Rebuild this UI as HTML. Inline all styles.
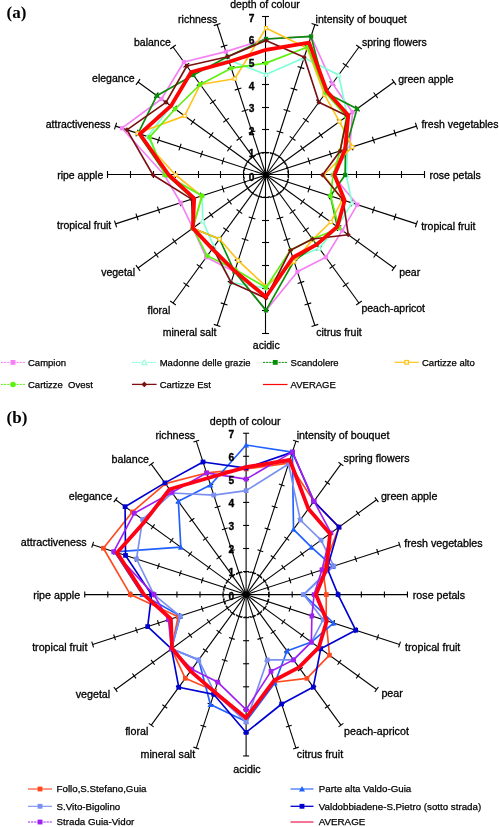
<!DOCTYPE html>
<html><head><meta charset="utf-8"><title>Sensory profiles</title>
<style>
html,body{margin:0;padding:0;background:#fff;}
body{width:499px;height:827px;overflow:hidden;}
svg{display:block;}
svg text{font-family:"Liberation Sans",Arial,sans-serif;fill:#000;}
.lab text{font-size:10.5px;stroke:#000;stroke-width:0.3px;}
.num text{font-size:10.2px;font-weight:bold;stroke:#000;stroke-width:0.35px;}
text.leg{font-size:9.5px;stroke:#000;stroke-width:0.25px;}
text.legb{font-size:9.75px;}
.labb text{font-size:10.7px;}
text.pan{font-family:"Liberation Serif","Times New Roman",serif;font-size:17px;font-weight:bold;}
</style></head><body>
<svg width="499" height="827" viewBox="0 0 499 827">
<rect width="499" height="827" fill="#fff"/>
<g stroke="#000" stroke-width="1.1" fill="none"><line x1="265.50" y1="175.00" x2="265.50" y2="16.80"/><line x1="262.00" y1="152.50" x2="269.00" y2="152.50"/><line x1="262.00" y1="129.50" x2="269.00" y2="129.50"/><line x1="262.00" y1="107.50" x2="269.00" y2="107.50"/><line x1="262.00" y1="84.50" x2="269.00" y2="84.50"/><line x1="262.00" y1="62.50" x2="269.00" y2="62.50"/><line x1="262.00" y1="39.50" x2="269.00" y2="39.50"/><line x1="262.00" y1="16.50" x2="269.00" y2="16.50"/><line x1="266.00" y1="175.00" x2="314.89" y2="24.54"/><line x1="269.66" y1="152.42" x2="276.31" y2="154.59"/><line x1="276.64" y1="130.93" x2="283.30" y2="133.09"/><line x1="283.62" y1="109.44" x2="290.28" y2="111.60"/><line x1="290.61" y1="87.94" x2="297.26" y2="90.11"/><line x1="297.59" y1="66.45" x2="304.25" y2="68.61"/><line x1="304.57" y1="44.96" x2="311.23" y2="47.12"/><line x1="311.56" y1="23.46" x2="318.22" y2="25.62"/><line x1="266.00" y1="175.00" x2="358.99" y2="47.01"/><line x1="276.45" y1="154.66" x2="282.12" y2="158.77"/><line x1="289.74" y1="136.38" x2="295.40" y2="140.49"/><line x1="303.02" y1="118.09" x2="308.68" y2="122.21"/><line x1="316.30" y1="99.81" x2="321.97" y2="103.92"/><line x1="329.59" y1="81.52" x2="335.25" y2="85.64"/><line x1="342.87" y1="63.24" x2="348.54" y2="67.35"/><line x1="356.16" y1="44.96" x2="361.82" y2="49.07"/><line x1="266.00" y1="175.00" x2="393.99" y2="82.01"/><line x1="282.23" y1="158.88" x2="286.34" y2="164.55"/><line x1="300.51" y1="145.60" x2="304.62" y2="151.26"/><line x1="318.79" y1="132.32" x2="322.91" y2="137.98"/><line x1="337.08" y1="119.03" x2="341.19" y2="124.70"/><line x1="355.36" y1="105.75" x2="359.48" y2="111.41"/><line x1="373.65" y1="92.46" x2="377.76" y2="98.13"/><line x1="391.93" y1="79.18" x2="396.04" y2="84.84"/><line x1="266.00" y1="175.00" x2="416.46" y2="126.11"/><line x1="286.41" y1="164.69" x2="288.58" y2="171.34"/><line x1="307.91" y1="157.70" x2="310.07" y2="164.36"/><line x1="329.40" y1="150.72" x2="331.56" y2="157.38"/><line x1="350.89" y1="143.74" x2="353.06" y2="150.39"/><line x1="372.39" y1="136.75" x2="374.55" y2="143.41"/><line x1="393.88" y1="129.77" x2="396.04" y2="136.43"/><line x1="415.38" y1="122.78" x2="417.54" y2="129.44"/><line x1="266.00" y1="174.50" x2="424.20" y2="174.50"/><line x1="288.50" y1="171.00" x2="288.50" y2="178.00"/><line x1="311.50" y1="171.00" x2="311.50" y2="178.00"/><line x1="333.50" y1="171.00" x2="333.50" y2="178.00"/><line x1="356.50" y1="171.00" x2="356.50" y2="178.00"/><line x1="379.50" y1="171.00" x2="379.50" y2="178.00"/><line x1="401.50" y1="171.00" x2="401.50" y2="178.00"/><line x1="424.50" y1="171.00" x2="424.50" y2="178.00"/><line x1="266.00" y1="175.00" x2="416.46" y2="223.89"/><line x1="288.58" y1="178.66" x2="286.41" y2="185.31"/><line x1="310.07" y1="185.64" x2="307.91" y2="192.30"/><line x1="331.56" y1="192.62" x2="329.40" y2="199.28"/><line x1="353.06" y1="199.61" x2="350.89" y2="206.26"/><line x1="374.55" y1="206.59" x2="372.39" y2="213.25"/><line x1="396.04" y1="213.57" x2="393.88" y2="220.23"/><line x1="417.54" y1="220.56" x2="415.38" y2="227.22"/><line x1="266.00" y1="175.00" x2="393.99" y2="267.99"/><line x1="286.34" y1="185.45" x2="282.23" y2="191.12"/><line x1="304.62" y1="198.74" x2="300.51" y2="204.40"/><line x1="322.91" y1="212.02" x2="318.79" y2="217.68"/><line x1="341.19" y1="225.30" x2="337.08" y2="230.97"/><line x1="359.48" y1="238.59" x2="355.36" y2="244.25"/><line x1="377.76" y1="251.87" x2="373.65" y2="257.54"/><line x1="396.04" y1="265.16" x2="391.93" y2="270.82"/><line x1="266.00" y1="175.00" x2="358.99" y2="302.99"/><line x1="282.12" y1="191.23" x2="276.45" y2="195.34"/><line x1="295.40" y1="209.51" x2="289.74" y2="213.62"/><line x1="308.68" y1="227.79" x2="303.02" y2="231.91"/><line x1="321.97" y1="246.08" x2="316.30" y2="250.19"/><line x1="335.25" y1="264.36" x2="329.59" y2="268.48"/><line x1="348.54" y1="282.65" x2="342.87" y2="286.76"/><line x1="361.82" y1="300.93" x2="356.16" y2="305.04"/><line x1="266.00" y1="175.00" x2="314.89" y2="325.46"/><line x1="276.31" y1="195.41" x2="269.66" y2="197.58"/><line x1="283.30" y1="216.91" x2="276.64" y2="219.07"/><line x1="290.28" y1="238.40" x2="283.62" y2="240.56"/><line x1="297.26" y1="259.89" x2="290.61" y2="262.06"/><line x1="304.25" y1="281.39" x2="297.59" y2="283.55"/><line x1="311.23" y1="302.88" x2="304.57" y2="305.04"/><line x1="318.22" y1="324.38" x2="311.56" y2="326.54"/><line x1="265.50" y1="175.00" x2="265.50" y2="333.20"/><line x1="269.00" y1="197.50" x2="262.00" y2="197.50"/><line x1="269.00" y1="220.50" x2="262.00" y2="220.50"/><line x1="269.00" y1="242.50" x2="262.00" y2="242.50"/><line x1="269.00" y1="265.50" x2="262.00" y2="265.50"/><line x1="269.00" y1="288.50" x2="262.00" y2="288.50"/><line x1="269.00" y1="310.50" x2="262.00" y2="310.50"/><line x1="269.00" y1="333.50" x2="262.00" y2="333.50"/><line x1="266.00" y1="175.00" x2="217.11" y2="325.46"/><line x1="262.34" y1="197.58" x2="255.69" y2="195.41"/><line x1="255.36" y1="219.07" x2="248.70" y2="216.91"/><line x1="248.38" y1="240.56" x2="241.72" y2="238.40"/><line x1="241.39" y1="262.06" x2="234.74" y2="259.89"/><line x1="234.41" y1="283.55" x2="227.75" y2="281.39"/><line x1="227.43" y1="305.04" x2="220.77" y2="302.88"/><line x1="220.44" y1="326.54" x2="213.78" y2="324.38"/><line x1="266.00" y1="175.00" x2="173.01" y2="302.99"/><line x1="255.55" y1="195.34" x2="249.88" y2="191.23"/><line x1="242.26" y1="213.62" x2="236.60" y2="209.51"/><line x1="228.98" y1="231.91" x2="223.32" y2="227.79"/><line x1="215.70" y1="250.19" x2="210.03" y2="246.08"/><line x1="202.41" y1="268.48" x2="196.75" y2="264.36"/><line x1="189.13" y1="286.76" x2="183.46" y2="282.65"/><line x1="175.84" y1="305.04" x2="170.18" y2="300.93"/><line x1="266.00" y1="175.00" x2="138.01" y2="267.99"/><line x1="249.77" y1="191.12" x2="245.66" y2="185.45"/><line x1="231.49" y1="204.40" x2="227.38" y2="198.74"/><line x1="213.21" y1="217.68" x2="209.09" y2="212.02"/><line x1="194.92" y1="230.97" x2="190.81" y2="225.30"/><line x1="176.64" y1="244.25" x2="172.52" y2="238.59"/><line x1="158.35" y1="257.54" x2="154.24" y2="251.87"/><line x1="140.07" y1="270.82" x2="135.96" y2="265.16"/><line x1="266.00" y1="175.00" x2="115.54" y2="223.89"/><line x1="245.59" y1="185.31" x2="243.42" y2="178.66"/><line x1="224.09" y1="192.30" x2="221.93" y2="185.64"/><line x1="202.60" y1="199.28" x2="200.44" y2="192.62"/><line x1="181.11" y1="206.26" x2="178.94" y2="199.61"/><line x1="159.61" y1="213.25" x2="157.45" y2="206.59"/><line x1="138.12" y1="220.23" x2="135.96" y2="213.57"/><line x1="116.62" y1="227.22" x2="114.46" y2="220.56"/><line x1="266.00" y1="174.50" x2="107.80" y2="174.50"/><line x1="243.50" y1="178.00" x2="243.50" y2="171.00"/><line x1="220.50" y1="178.00" x2="220.50" y2="171.00"/><line x1="198.50" y1="178.00" x2="198.50" y2="171.00"/><line x1="175.50" y1="178.00" x2="175.50" y2="171.00"/><line x1="153.50" y1="178.00" x2="153.50" y2="171.00"/><line x1="130.50" y1="178.00" x2="130.50" y2="171.00"/><line x1="107.50" y1="178.00" x2="107.50" y2="171.00"/><line x1="266.00" y1="175.00" x2="115.54" y2="126.11"/><line x1="243.42" y1="171.34" x2="245.59" y2="164.69"/><line x1="221.93" y1="164.36" x2="224.09" y2="157.70"/><line x1="200.44" y1="157.38" x2="202.60" y2="150.72"/><line x1="178.94" y1="150.39" x2="181.11" y2="143.74"/><line x1="157.45" y1="143.41" x2="159.61" y2="136.75"/><line x1="135.96" y1="136.43" x2="138.12" y2="129.77"/><line x1="114.46" y1="129.44" x2="116.62" y2="122.78"/><line x1="266.00" y1="175.00" x2="138.01" y2="82.01"/><line x1="245.66" y1="164.55" x2="249.77" y2="158.88"/><line x1="227.38" y1="151.26" x2="231.49" y2="145.60"/><line x1="209.09" y1="137.98" x2="213.21" y2="132.32"/><line x1="190.81" y1="124.70" x2="194.92" y2="119.03"/><line x1="172.52" y1="111.41" x2="176.64" y2="105.75"/><line x1="154.24" y1="98.13" x2="158.35" y2="92.46"/><line x1="135.96" y1="84.84" x2="140.07" y2="79.18"/><line x1="266.00" y1="175.00" x2="173.01" y2="47.01"/><line x1="249.88" y1="158.77" x2="255.55" y2="154.66"/><line x1="236.60" y1="140.49" x2="242.26" y2="136.38"/><line x1="223.32" y1="122.21" x2="228.98" y2="118.09"/><line x1="210.03" y1="103.92" x2="215.70" y2="99.81"/><line x1="196.75" y1="85.64" x2="202.41" y2="81.52"/><line x1="183.46" y1="67.35" x2="189.13" y2="63.24"/><line x1="170.18" y1="49.07" x2="175.84" y2="44.96"/><line x1="266.00" y1="175.00" x2="217.11" y2="24.54"/><line x1="255.69" y1="154.59" x2="262.34" y2="152.42"/><line x1="248.70" y1="133.09" x2="255.36" y2="130.93"/><line x1="241.72" y1="111.60" x2="248.38" y2="109.44"/><line x1="234.74" y1="90.11" x2="241.39" y2="87.94"/><line x1="227.75" y1="68.61" x2="234.41" y2="66.45"/><line x1="220.77" y1="47.12" x2="227.43" y2="44.96"/><line x1="213.78" y1="25.62" x2="220.44" y2="23.46"/></g><circle cx="266.0" cy="175.0" r="22.04" fill="none" stroke="#000" stroke-width="1" stroke-dasharray="2.6 1.7"/><circle cx="266.0" cy="175.0" r="3.3" fill="#000"/>
<path d="M266.00 38.95 L311.05 36.36 L332.42 83.58 L352.48 112.17 L349.83 147.76 L332.67 175.00 L357.35 204.68 L342.24 230.39 L325.78 257.28 L297.43 271.72 L266.00 310.37 L234.57 271.72 L206.22 257.28 L192.86 228.14 L180.67 202.73 L164.30 175.00 L121.99 128.21 L161.42 99.02 L183.91 62.01 L225.91 51.63 Z" fill="none" stroke="#F480F4" stroke-width="1.65" stroke-linejoin="round"/><rect x="263.90" y="36.85" width="4.20" height="4.20" fill="#F480F4"/><rect x="308.95" y="34.26" width="4.20" height="4.20" fill="#F480F4"/><rect x="330.32" y="81.48" width="4.20" height="4.20" fill="#F480F4"/><rect x="350.38" y="110.07" width="4.20" height="4.20" fill="#F480F4"/><rect x="347.73" y="145.66" width="4.20" height="4.20" fill="#F480F4"/><rect x="330.57" y="172.90" width="4.20" height="4.20" fill="#F480F4"/><rect x="355.25" y="202.58" width="4.20" height="4.20" fill="#F480F4"/><rect x="340.14" y="228.29" width="4.20" height="4.20" fill="#F480F4"/><rect x="323.68" y="255.18" width="4.20" height="4.20" fill="#F480F4"/><rect x="295.33" y="269.62" width="4.20" height="4.20" fill="#F480F4"/><rect x="263.90" y="308.27" width="4.20" height="4.20" fill="#F480F4"/><rect x="232.47" y="269.62" width="4.20" height="4.20" fill="#F480F4"/><rect x="204.12" y="255.18" width="4.20" height="4.20" fill="#F480F4"/><rect x="190.76" y="226.04" width="4.20" height="4.20" fill="#F480F4"/><rect x="178.57" y="200.63" width="4.20" height="4.20" fill="#F480F4"/><rect x="162.20" y="172.90" width="4.20" height="4.20" fill="#F480F4"/><rect x="119.89" y="126.11" width="4.20" height="4.20" fill="#F480F4"/><rect x="159.32" y="96.92" width="4.20" height="4.20" fill="#F480F4"/><rect x="181.81" y="59.91" width="4.20" height="4.20" fill="#F480F4"/><rect x="223.81" y="49.53" width="4.20" height="4.20" fill="#F480F4"/>
<path d="M266.00 74.43 L304.06 57.86 L338.66 74.99 L347.36 115.89 L347.68 148.46 L346.23 175.00 L351.98 202.94 L337.31 226.81 L319.14 248.14 L293.24 258.83 L266.00 288.00 L231.08 282.47 L213.93 246.67 L202.74 220.96 L202.16 195.74 L166.56 175.00 L147.78 136.59 L170.92 105.92 L191.61 72.61 L228.64 60.01 Z" fill="none" stroke="#7FFFD4" stroke-width="1.65" stroke-linejoin="round"/><path d="M266.00 72.13 L268.30 76.43 L263.70 76.43 Z" fill="#fff" stroke="#7FFFD4" stroke-width="1"/><path d="M304.06 55.56 L306.36 59.86 L301.76 59.86 Z" fill="#fff" stroke="#7FFFD4" stroke-width="1"/><path d="M338.66 72.69 L340.96 76.99 L336.36 76.99 Z" fill="#fff" stroke="#7FFFD4" stroke-width="1"/><path d="M347.36 113.59 L349.66 117.89 L345.06 117.89 Z" fill="#fff" stroke="#7FFFD4" stroke-width="1"/><path d="M347.68 146.16 L349.98 150.46 L345.38 150.46 Z" fill="#fff" stroke="#7FFFD4" stroke-width="1"/><path d="M346.23 172.70 L348.53 177.00 L343.93 177.00 Z" fill="#fff" stroke="#7FFFD4" stroke-width="1"/><path d="M351.98 200.64 L354.28 204.94 L349.68 204.94 Z" fill="#fff" stroke="#7FFFD4" stroke-width="1"/><path d="M337.31 224.51 L339.61 228.81 L335.01 228.81 Z" fill="#fff" stroke="#7FFFD4" stroke-width="1"/><path d="M319.14 245.84 L321.44 250.14 L316.84 250.14 Z" fill="#fff" stroke="#7FFFD4" stroke-width="1"/><path d="M293.24 256.53 L295.54 260.83 L290.94 260.83 Z" fill="#fff" stroke="#7FFFD4" stroke-width="1"/><path d="M266.00 285.70 L268.30 290.00 L263.70 290.00 Z" fill="#fff" stroke="#7FFFD4" stroke-width="1"/><path d="M231.08 280.17 L233.38 284.47 L228.78 284.47 Z" fill="#fff" stroke="#7FFFD4" stroke-width="1"/><path d="M213.93 244.37 L216.23 248.67 L211.63 248.67 Z" fill="#fff" stroke="#7FFFD4" stroke-width="1"/><path d="M202.74 218.66 L205.04 222.96 L200.44 222.96 Z" fill="#fff" stroke="#7FFFD4" stroke-width="1"/><path d="M202.16 193.44 L204.46 197.74 L199.86 197.74 Z" fill="#fff" stroke="#7FFFD4" stroke-width="1"/><path d="M166.56 172.70 L168.86 177.00 L164.26 177.00 Z" fill="#fff" stroke="#7FFFD4" stroke-width="1"/><path d="M147.78 134.29 L150.08 138.59 L145.48 138.59 Z" fill="#fff" stroke="#7FFFD4" stroke-width="1"/><path d="M170.92 103.62 L173.22 107.92 L168.62 107.92 Z" fill="#fff" stroke="#7FFFD4" stroke-width="1"/><path d="M191.61 70.31 L193.91 74.61 L189.31 74.61 Z" fill="#fff" stroke="#7FFFD4" stroke-width="1"/><path d="M228.64 57.71 L230.94 62.01 L226.34 62.01 Z" fill="#fff" stroke="#7FFFD4" stroke-width="1"/>
<path d="M266.00 38.95 L311.05 36.36 L325.78 92.72 L357.05 108.85 L345.53 149.16 L345.10 175.00 L330.48 195.95 L337.31 226.81 L316.48 244.48 L293.94 260.98 L266.00 310.37 L234.57 271.72 L219.51 238.99 L192.86 228.14 L192.92 198.74 L166.56 175.00 L138.11 133.45 L156.85 95.69 L193.34 74.99 L227.59 56.78 Z" fill="none" stroke="#068E06" stroke-width="1.65" stroke-linejoin="round"/><rect x="263.90" y="36.85" width="4.20" height="4.20" fill="#068E06"/><rect x="308.95" y="34.26" width="4.20" height="4.20" fill="#068E06"/><rect x="323.68" y="90.62" width="4.20" height="4.20" fill="#068E06"/><rect x="354.95" y="106.75" width="4.20" height="4.20" fill="#068E06"/><rect x="343.43" y="147.06" width="4.20" height="4.20" fill="#068E06"/><rect x="343.00" y="172.90" width="4.20" height="4.20" fill="#068E06"/><rect x="328.38" y="193.85" width="4.20" height="4.20" fill="#068E06"/><rect x="335.21" y="224.71" width="4.20" height="4.20" fill="#068E06"/><rect x="314.38" y="242.38" width="4.20" height="4.20" fill="#068E06"/><rect x="291.84" y="258.88" width="4.20" height="4.20" fill="#068E06"/><rect x="263.90" y="308.27" width="4.20" height="4.20" fill="#068E06"/><rect x="232.47" y="269.62" width="4.20" height="4.20" fill="#068E06"/><rect x="217.41" y="236.89" width="4.20" height="4.20" fill="#068E06"/><rect x="190.76" y="226.04" width="4.20" height="4.20" fill="#068E06"/><rect x="190.82" y="196.64" width="4.20" height="4.20" fill="#068E06"/><rect x="164.46" y="172.90" width="4.20" height="4.20" fill="#068E06"/><rect x="136.01" y="131.35" width="4.20" height="4.20" fill="#068E06"/><rect x="154.75" y="93.59" width="4.20" height="4.20" fill="#068E06"/><rect x="191.24" y="72.89" width="4.20" height="4.20" fill="#068E06"/><rect x="225.49" y="54.68" width="4.20" height="4.20" fill="#068E06"/>
<path d="M266.00 28.10 L307.20 48.19 L324.45 94.55 L339.50 121.60 L352.41 146.93 L323.63 175.00 L342.30 199.79 L330.72 222.03 L312.76 239.36 L294.14 261.62 L266.00 286.42 L238.20 260.55 L219.51 238.99 L192.86 228.14 L201.52 195.95 L175.60 175.00 L137.47 133.24 L184.64 115.89 L200.24 84.50 L234.71 78.71 Z" fill="none" stroke="#FFC31A" stroke-width="1.65" stroke-linejoin="round"/><rect x="264.45" y="26.55" width="3.10" height="3.10" fill="#fff" stroke="#FFC31A" stroke-width="1.10"/><rect x="305.65" y="46.64" width="3.10" height="3.10" fill="#fff" stroke="#FFC31A" stroke-width="1.10"/><rect x="322.90" y="93.00" width="3.10" height="3.10" fill="#fff" stroke="#FFC31A" stroke-width="1.10"/><rect x="337.95" y="120.05" width="3.10" height="3.10" fill="#fff" stroke="#FFC31A" stroke-width="1.10"/><rect x="350.86" y="145.38" width="3.10" height="3.10" fill="#fff" stroke="#FFC31A" stroke-width="1.10"/><rect x="322.08" y="173.45" width="3.10" height="3.10" fill="#fff" stroke="#FFC31A" stroke-width="1.10"/><rect x="340.75" y="198.24" width="3.10" height="3.10" fill="#fff" stroke="#FFC31A" stroke-width="1.10"/><rect x="329.17" y="220.48" width="3.10" height="3.10" fill="#fff" stroke="#FFC31A" stroke-width="1.10"/><rect x="311.21" y="237.81" width="3.10" height="3.10" fill="#fff" stroke="#FFC31A" stroke-width="1.10"/><rect x="292.59" y="260.07" width="3.10" height="3.10" fill="#fff" stroke="#FFC31A" stroke-width="1.10"/><rect x="264.45" y="284.87" width="3.10" height="3.10" fill="#fff" stroke="#FFC31A" stroke-width="1.10"/><rect x="236.65" y="259.00" width="3.10" height="3.10" fill="#fff" stroke="#FFC31A" stroke-width="1.10"/><rect x="217.96" y="237.44" width="3.10" height="3.10" fill="#fff" stroke="#FFC31A" stroke-width="1.10"/><rect x="191.31" y="226.59" width="3.10" height="3.10" fill="#fff" stroke="#FFC31A" stroke-width="1.10"/><rect x="199.97" y="194.40" width="3.10" height="3.10" fill="#fff" stroke="#FFC31A" stroke-width="1.10"/><rect x="174.05" y="173.45" width="3.10" height="3.10" fill="#fff" stroke="#FFC31A" stroke-width="1.10"/><rect x="135.92" y="131.69" width="3.10" height="3.10" fill="#fff" stroke="#FFC31A" stroke-width="1.10"/><rect x="183.09" y="114.34" width="3.10" height="3.10" fill="#fff" stroke="#FFC31A" stroke-width="1.10"/><rect x="198.69" y="82.95" width="3.10" height="3.10" fill="#fff" stroke="#FFC31A" stroke-width="1.10"/><rect x="233.16" y="77.16" width="3.10" height="3.10" fill="#fff" stroke="#FFC31A" stroke-width="1.10"/>
<path d="M266.00 63.13 L307.62 46.90 L325.64 92.91 L346.45 116.55 L340.15 150.91 L333.12 175.00 L330.48 195.95 L339.14 228.14 L312.49 238.99 L290.44 250.23 L266.00 287.55 L235.27 269.57 L207.28 255.81 L192.86 228.14 L202.16 195.74 L164.75 175.00 L149.50 137.15 L175.13 108.98 L200.24 84.50 L231.29 68.18 Z" fill="none" stroke="#5EF010" stroke-width="1.65" stroke-linejoin="round"/><circle cx="266.00" cy="63.13" r="2.40" fill="#5EF010"/><circle cx="307.62" cy="46.90" r="2.40" fill="#5EF010"/><circle cx="325.64" cy="92.91" r="2.40" fill="#5EF010"/><circle cx="346.45" cy="116.55" r="2.40" fill="#5EF010"/><circle cx="340.15" cy="150.91" r="2.40" fill="#5EF010"/><circle cx="333.12" cy="175.00" r="2.40" fill="#5EF010"/><circle cx="330.48" cy="195.95" r="2.40" fill="#5EF010"/><circle cx="339.14" cy="228.14" r="2.40" fill="#5EF010"/><circle cx="312.49" cy="238.99" r="2.40" fill="#5EF010"/><circle cx="290.44" cy="250.23" r="2.40" fill="#5EF010"/><circle cx="266.00" cy="287.55" r="2.40" fill="#5EF010"/><circle cx="235.27" cy="269.57" r="2.40" fill="#5EF010"/><circle cx="207.28" cy="255.81" r="2.40" fill="#5EF010"/><circle cx="192.86" cy="228.14" r="2.40" fill="#5EF010"/><circle cx="202.16" cy="195.74" r="2.40" fill="#5EF010"/><circle cx="164.75" cy="175.00" r="2.40" fill="#5EF010"/><circle cx="149.50" cy="137.15" r="2.40" fill="#5EF010"/><circle cx="175.13" cy="108.98" r="2.40" fill="#5EF010"/><circle cx="200.24" cy="84.50" r="2.40" fill="#5EF010"/><circle cx="231.29" cy="68.18" r="2.40" fill="#5EF010"/>
<path d="M266.00 40.53 L304.27 57.21 L318.87 102.23 L347.36 115.89 L340.15 150.91 L322.50 175.00 L343.16 200.07 L348.28 234.78 L312.49 238.99 L290.44 250.23 L266.00 298.17 L231.08 282.47 L212.86 248.14 L192.86 228.14 L191.63 199.16 L153.00 175.00 L126.93 129.81 L165.99 102.34 L186.83 66.03 L227.59 56.78 Z" fill="none" stroke="#7A1010" stroke-width="1.65" stroke-linejoin="round"/><path d="M266.00 38.03 L268.50 40.53 L266.00 43.03 L263.50 40.53 Z" fill="#7A1010"/><path d="M304.27 54.71 L306.77 57.21 L304.27 59.71 L301.77 57.21 Z" fill="#7A1010"/><path d="M318.87 99.73 L321.37 102.23 L318.87 104.73 L316.37 102.23 Z" fill="#7A1010"/><path d="M347.36 113.39 L349.86 115.89 L347.36 118.39 L344.86 115.89 Z" fill="#7A1010"/><path d="M340.15 148.41 L342.65 150.91 L340.15 153.41 L337.65 150.91 Z" fill="#7A1010"/><path d="M322.50 172.50 L325.00 175.00 L322.50 177.50 L320.00 175.00 Z" fill="#7A1010"/><path d="M343.16 197.57 L345.66 200.07 L343.16 202.57 L340.66 200.07 Z" fill="#7A1010"/><path d="M348.28 232.28 L350.78 234.78 L348.28 237.28 L345.78 234.78 Z" fill="#7A1010"/><path d="M312.49 236.49 L314.99 238.99 L312.49 241.49 L309.99 238.99 Z" fill="#7A1010"/><path d="M290.44 247.73 L292.94 250.23 L290.44 252.73 L287.94 250.23 Z" fill="#7A1010"/><path d="M266.00 295.67 L268.50 298.17 L266.00 300.67 L263.50 298.17 Z" fill="#7A1010"/><path d="M231.08 279.97 L233.58 282.47 L231.08 284.97 L228.58 282.47 Z" fill="#7A1010"/><path d="M212.86 245.64 L215.36 248.14 L212.86 250.64 L210.36 248.14 Z" fill="#7A1010"/><path d="M192.86 225.64 L195.36 228.14 L192.86 230.64 L190.36 228.14 Z" fill="#7A1010"/><path d="M191.63 196.66 L194.13 199.16 L191.63 201.66 L189.13 199.16 Z" fill="#7A1010"/><path d="M153.00 172.50 L155.50 175.00 L153.00 177.50 L150.50 175.00 Z" fill="#7A1010"/><path d="M126.93 127.31 L129.43 129.81 L126.93 132.31 L124.43 129.81 Z" fill="#7A1010"/><path d="M165.99 99.84 L168.49 102.34 L165.99 104.84 L163.49 102.34 Z" fill="#7A1010"/><path d="M186.83 63.53 L189.33 66.03 L186.83 68.53 L184.33 66.03 Z" fill="#7A1010"/><path d="M227.59 54.28 L230.09 56.78 L227.59 59.28 L225.09 56.78 Z" fill="#7A1010"/>
<path d="M266.00 49.80 L309.02 42.60 L326.84 91.26 L348.28 115.22 L345.10 149.30 L334.48 175.00 L344.67 200.56 L337.31 226.81 L316.61 244.66 L292.82 257.54 L266.00 297.04 L234.78 271.08 L212.33 248.87 L192.86 228.14 L194.21 198.33 L168.82 175.00 L139.83 134.01 L170.92 105.92 L191.21 72.06 L229.20 61.73 Z" fill="none" stroke="#FF0404" stroke-width="3.8" stroke-linejoin="round"/>
<g class="num"><text x="254.5" y="180.5" text-anchor="end">0</text><text x="254.5" y="157.3" text-anchor="end">1</text><text x="254.5" y="134.7" text-anchor="end">2</text><text x="254.5" y="112.1" text-anchor="end">3</text><text x="254.5" y="89.5" text-anchor="end">4</text><text x="254.5" y="66.9" text-anchor="end">5</text><text x="254.5" y="44.3" text-anchor="end">6</text><text x="254.5" y="21.7" text-anchor="end">7</text></g>
<g class="lab"><text x="265" y="7.9" text-anchor="middle">depth of colour</text><text x="315.6" y="22.6" text-anchor="start">intensity of bouquet</text><text x="362" y="45.7" text-anchor="start">spring flowers</text><text x="398.2" y="82.5" text-anchor="start">green apple</text><text x="421.4" y="128.4" text-anchor="start">fresh vegetables</text><text x="429.4" y="178.7" text-anchor="start">rose petals</text><text x="421.2" y="229.5" text-anchor="start">tropical fruit</text><text x="399.2" y="275.8" text-anchor="start">pear</text><text x="361.4" y="311.8" text-anchor="start">peach-apricot</text><text x="316.2" y="335.6" text-anchor="start">citrus fruit</text><text x="266.3" y="348.7" text-anchor="middle">acidic</text><text x="216.4" y="336" text-anchor="end">mineral salt</text><text x="170.3" y="313.5" text-anchor="end">floral</text><text x="135" y="276.2" text-anchor="end">vegetal</text><text x="111.3" y="229.3" text-anchor="end">tropical fruit</text><text x="103.3" y="178.8" text-anchor="end">ripe apple</text><text x="110.5" y="127.6" text-anchor="end">attractiveness</text><text x="134.7" y="81.9" text-anchor="end">elegance</text><text x="170.8" y="45.6" text-anchor="end">balance</text><text x="217.2" y="22.7" text-anchor="end">richness</text></g>
<line x1="1" y1="362.4" x2="25" y2="362.4" stroke="#F480F4" stroke-width="1" stroke-dasharray="2.2 0.9"/><rect x="10.59" y="359.98" width="4.83" height="4.83" fill="#F480F4"/><text class="leg" x="28" y="365.8">Campion</text><line x1="132" y1="362.4" x2="156.6" y2="362.4" stroke="#7FFFD4" stroke-width="1" stroke-dasharray="2.2 0.9"/><path d="M144.30 359.75 L146.95 364.70 L141.66 364.70 Z" fill="#fff" stroke="#7FFFD4" stroke-width="1"/><text class="leg" x="159.7" y="365.8">Madonne delle grazie</text><line x1="263" y1="362.4" x2="287.5" y2="362.4" stroke="#068E06" stroke-width="1" stroke-dasharray="2.2 0.9"/><rect x="272.83" y="359.98" width="4.83" height="4.83" fill="#068E06"/><text class="leg" x="290.6" y="365.8">Scandolere</text><line x1="394.5" y1="362.3" x2="418.8" y2="362.3" stroke="#FFC31A" stroke-width="1.2"/><rect x="404.87" y="360.52" width="3.56" height="3.56" fill="#fff" stroke="#FFC31A" stroke-width="1.26"/><text class="leg" x="422" y="365.7">Cartizze alto</text><line x1="1" y1="384.4" x2="25" y2="384.4" stroke="#5EF010" stroke-width="1" stroke-dasharray="2.2 0.9"/><circle cx="13.00" cy="384.40" r="2.76" fill="#5EF010"/><text class="leg" x="28" y="387.8">Cartizze  Ovest</text><line x1="132" y1="384.4" x2="156.6" y2="384.4" stroke="#7A1010" stroke-width="1.3"/><path d="M144.30 381.52 L147.18 384.40 L144.30 387.27 L141.43 384.40 Z" fill="#7A1010"/><text class="leg" x="159.7" y="387.8">Cartizze Est</text><line x1="263" y1="384.5" x2="287.5" y2="384.5" stroke="#FF0404" stroke-width="1.2"/><text class="leg" x="290.6" y="387.9">AVERAGE</text>
<g stroke="#000" stroke-width="1.1" fill="none"><line x1="246.10" y1="594.60" x2="246.10" y2="433.25"/><line x1="243.10" y1="571.55" x2="249.10" y2="571.55"/><line x1="243.10" y1="548.50" x2="249.10" y2="548.50"/><line x1="243.10" y1="525.45" x2="249.10" y2="525.45"/><line x1="243.10" y1="502.40" x2="249.10" y2="502.40"/><line x1="243.10" y1="479.35" x2="249.10" y2="479.35"/><line x1="243.10" y1="456.30" x2="249.10" y2="456.30"/><line x1="243.10" y1="433.25" x2="249.10" y2="433.25"/><line x1="246.10" y1="594.60" x2="295.96" y2="441.15"/><line x1="250.37" y1="571.75" x2="256.08" y2="573.61"/><line x1="257.49" y1="549.83" x2="263.20" y2="551.68"/><line x1="264.62" y1="527.91" x2="270.32" y2="529.76"/><line x1="271.74" y1="505.99" x2="277.44" y2="507.84"/><line x1="278.86" y1="484.06" x2="284.57" y2="485.92"/><line x1="285.98" y1="462.14" x2="291.69" y2="464.00"/><line x1="293.11" y1="440.22" x2="298.81" y2="442.07"/><line x1="246.10" y1="594.60" x2="340.94" y2="464.07"/><line x1="257.22" y1="574.19" x2="262.08" y2="577.72"/><line x1="270.77" y1="555.54" x2="275.62" y2="559.07"/><line x1="284.32" y1="536.89" x2="289.17" y2="540.42"/><line x1="297.87" y1="518.25" x2="302.72" y2="521.77"/><line x1="311.42" y1="499.60" x2="316.27" y2="503.12"/><line x1="324.96" y1="480.95" x2="329.82" y2="484.48"/><line x1="338.51" y1="462.30" x2="343.37" y2="465.83"/><line x1="246.10" y1="594.60" x2="376.63" y2="499.76"/><line x1="262.98" y1="578.62" x2="266.51" y2="583.48"/><line x1="281.63" y1="565.08" x2="285.16" y2="569.93"/><line x1="300.28" y1="551.53" x2="303.81" y2="556.38"/><line x1="318.93" y1="537.98" x2="322.45" y2="542.83"/><line x1="337.58" y1="524.43" x2="341.10" y2="529.28"/><line x1="356.22" y1="510.88" x2="359.75" y2="515.74"/><line x1="374.87" y1="497.33" x2="378.40" y2="502.19"/><line x1="246.10" y1="594.60" x2="399.55" y2="544.74"/><line x1="267.09" y1="584.62" x2="268.95" y2="590.33"/><line x1="289.02" y1="577.50" x2="290.87" y2="583.21"/><line x1="310.94" y1="570.38" x2="312.79" y2="576.08"/><line x1="332.86" y1="563.26" x2="334.71" y2="568.96"/><line x1="354.78" y1="556.13" x2="356.64" y2="561.84"/><line x1="376.70" y1="549.01" x2="378.56" y2="554.72"/><line x1="398.63" y1="541.89" x2="400.48" y2="547.59"/><line x1="246.10" y1="594.60" x2="407.45" y2="594.60"/><line x1="269.15" y1="591.60" x2="269.15" y2="597.60"/><line x1="292.20" y1="591.60" x2="292.20" y2="597.60"/><line x1="315.25" y1="591.60" x2="315.25" y2="597.60"/><line x1="338.30" y1="591.60" x2="338.30" y2="597.60"/><line x1="361.35" y1="591.60" x2="361.35" y2="597.60"/><line x1="384.40" y1="591.60" x2="384.40" y2="597.60"/><line x1="407.45" y1="591.60" x2="407.45" y2="597.60"/><line x1="246.10" y1="594.60" x2="399.55" y2="644.46"/><line x1="268.95" y1="598.87" x2="267.09" y2="604.58"/><line x1="290.87" y1="605.99" x2="289.02" y2="611.70"/><line x1="312.79" y1="613.12" x2="310.94" y2="618.82"/><line x1="334.71" y1="620.24" x2="332.86" y2="625.94"/><line x1="356.64" y1="627.36" x2="354.78" y2="633.07"/><line x1="378.56" y1="634.48" x2="376.70" y2="640.19"/><line x1="400.48" y1="641.61" x2="398.63" y2="647.31"/><line x1="246.10" y1="594.60" x2="376.63" y2="689.44"/><line x1="266.51" y1="605.72" x2="262.98" y2="610.58"/><line x1="285.16" y1="619.27" x2="281.63" y2="624.12"/><line x1="303.81" y1="632.82" x2="300.28" y2="637.67"/><line x1="322.45" y1="646.37" x2="318.93" y2="651.22"/><line x1="341.10" y1="659.92" x2="337.58" y2="664.77"/><line x1="359.75" y1="673.46" x2="356.22" y2="678.32"/><line x1="378.40" y1="687.01" x2="374.87" y2="691.87"/><line x1="246.10" y1="594.60" x2="340.94" y2="725.13"/><line x1="262.08" y1="611.48" x2="257.22" y2="615.01"/><line x1="275.62" y1="630.13" x2="270.77" y2="633.66"/><line x1="289.17" y1="648.78" x2="284.32" y2="652.31"/><line x1="302.72" y1="667.43" x2="297.87" y2="670.95"/><line x1="316.27" y1="686.08" x2="311.42" y2="689.60"/><line x1="329.82" y1="704.72" x2="324.96" y2="708.25"/><line x1="343.37" y1="723.37" x2="338.51" y2="726.90"/><line x1="246.10" y1="594.60" x2="295.96" y2="748.05"/><line x1="256.08" y1="615.59" x2="250.37" y2="617.45"/><line x1="263.20" y1="637.52" x2="257.49" y2="639.37"/><line x1="270.32" y1="659.44" x2="264.62" y2="661.29"/><line x1="277.44" y1="681.36" x2="271.74" y2="683.21"/><line x1="284.57" y1="703.28" x2="278.86" y2="705.14"/><line x1="291.69" y1="725.20" x2="285.98" y2="727.06"/><line x1="298.81" y1="747.13" x2="293.11" y2="748.98"/><line x1="246.10" y1="594.60" x2="246.10" y2="755.95"/><line x1="249.10" y1="617.65" x2="243.10" y2="617.65"/><line x1="249.10" y1="640.70" x2="243.10" y2="640.70"/><line x1="249.10" y1="663.75" x2="243.10" y2="663.75"/><line x1="249.10" y1="686.80" x2="243.10" y2="686.80"/><line x1="249.10" y1="709.85" x2="243.10" y2="709.85"/><line x1="249.10" y1="732.90" x2="243.10" y2="732.90"/><line x1="249.10" y1="755.95" x2="243.10" y2="755.95"/><line x1="246.10" y1="594.60" x2="196.24" y2="748.05"/><line x1="241.83" y1="617.45" x2="236.12" y2="615.59"/><line x1="234.71" y1="639.37" x2="229.00" y2="637.52"/><line x1="227.58" y1="661.29" x2="221.88" y2="659.44"/><line x1="220.46" y1="683.21" x2="214.76" y2="681.36"/><line x1="213.34" y1="705.14" x2="207.63" y2="703.28"/><line x1="206.22" y1="727.06" x2="200.51" y2="725.20"/><line x1="199.09" y1="748.98" x2="193.39" y2="747.13"/><line x1="246.10" y1="594.60" x2="151.26" y2="725.13"/><line x1="234.98" y1="615.01" x2="230.12" y2="611.48"/><line x1="221.43" y1="633.66" x2="216.58" y2="630.13"/><line x1="207.88" y1="652.31" x2="203.03" y2="648.78"/><line x1="194.33" y1="670.95" x2="189.48" y2="667.43"/><line x1="180.78" y1="689.60" x2="175.93" y2="686.08"/><line x1="167.24" y1="708.25" x2="162.38" y2="704.72"/><line x1="153.69" y1="726.90" x2="148.83" y2="723.37"/><line x1="246.10" y1="594.60" x2="115.57" y2="689.44"/><line x1="229.22" y1="610.58" x2="225.69" y2="605.72"/><line x1="210.57" y1="624.12" x2="207.04" y2="619.27"/><line x1="191.92" y1="637.67" x2="188.39" y2="632.82"/><line x1="173.27" y1="651.22" x2="169.75" y2="646.37"/><line x1="154.62" y1="664.77" x2="151.10" y2="659.92"/><line x1="135.98" y1="678.32" x2="132.45" y2="673.46"/><line x1="117.33" y1="691.87" x2="113.80" y2="687.01"/><line x1="246.10" y1="594.60" x2="92.65" y2="644.46"/><line x1="225.11" y1="604.58" x2="223.25" y2="598.87"/><line x1="203.18" y1="611.70" x2="201.33" y2="605.99"/><line x1="181.26" y1="618.82" x2="179.41" y2="613.12"/><line x1="159.34" y1="625.94" x2="157.49" y2="620.24"/><line x1="137.42" y1="633.07" x2="135.56" y2="627.36"/><line x1="115.50" y1="640.19" x2="113.64" y2="634.48"/><line x1="93.57" y1="647.31" x2="91.72" y2="641.61"/><line x1="246.10" y1="594.60" x2="84.75" y2="594.60"/><line x1="223.05" y1="597.60" x2="223.05" y2="591.60"/><line x1="200.00" y1="597.60" x2="200.00" y2="591.60"/><line x1="176.95" y1="597.60" x2="176.95" y2="591.60"/><line x1="153.90" y1="597.60" x2="153.90" y2="591.60"/><line x1="130.85" y1="597.60" x2="130.85" y2="591.60"/><line x1="107.80" y1="597.60" x2="107.80" y2="591.60"/><line x1="84.75" y1="597.60" x2="84.75" y2="591.60"/><line x1="246.10" y1="594.60" x2="92.65" y2="544.74"/><line x1="223.25" y1="590.33" x2="225.11" y2="584.62"/><line x1="201.33" y1="583.21" x2="203.18" y2="577.50"/><line x1="179.41" y1="576.08" x2="181.26" y2="570.38"/><line x1="157.49" y1="568.96" x2="159.34" y2="563.26"/><line x1="135.56" y1="561.84" x2="137.42" y2="556.13"/><line x1="113.64" y1="554.72" x2="115.50" y2="549.01"/><line x1="91.72" y1="547.59" x2="93.57" y2="541.89"/><line x1="246.10" y1="594.60" x2="115.57" y2="499.76"/><line x1="225.69" y1="583.48" x2="229.22" y2="578.62"/><line x1="207.04" y1="569.93" x2="210.57" y2="565.08"/><line x1="188.39" y1="556.38" x2="191.92" y2="551.53"/><line x1="169.75" y1="542.83" x2="173.27" y2="537.98"/><line x1="151.10" y1="529.28" x2="154.62" y2="524.43"/><line x1="132.45" y1="515.74" x2="135.98" y2="510.88"/><line x1="113.80" y1="502.19" x2="117.33" y2="497.33"/><line x1="246.10" y1="594.60" x2="151.26" y2="464.07"/><line x1="230.12" y1="577.72" x2="234.98" y2="574.19"/><line x1="216.58" y1="559.07" x2="221.43" y2="555.54"/><line x1="203.03" y1="540.42" x2="207.88" y2="536.89"/><line x1="189.48" y1="521.77" x2="194.33" y2="518.25"/><line x1="175.93" y1="503.12" x2="180.78" y2="499.60"/><line x1="162.38" y1="484.48" x2="167.24" y2="480.95"/><line x1="148.83" y1="465.83" x2="153.69" y2="462.30"/><line x1="246.10" y1="594.60" x2="196.24" y2="441.15"/><line x1="236.12" y1="573.61" x2="241.83" y2="571.75"/><line x1="229.00" y1="551.68" x2="234.71" y2="549.83"/><line x1="221.88" y1="529.76" x2="227.58" y2="527.91"/><line x1="214.76" y1="507.84" x2="220.46" y2="505.99"/><line x1="207.63" y1="485.92" x2="213.34" y2="484.06"/><line x1="200.51" y1="464.00" x2="206.22" y2="462.14"/><line x1="193.39" y1="442.07" x2="199.09" y2="440.22"/></g><circle cx="246.1" cy="594.6" r="22.47" fill="none" stroke="#000" stroke-width="1" stroke-dasharray="2.6 1.7"/><circle cx="246.1" cy="594.6" r="3.3" fill="#000"/>
<path d="M246.10 468.98 L288.84 463.07 L313.84 501.36 L338.97 527.13 L322.83 569.67 L326.31 594.60 L326.11 620.60 L329.46 655.16 L306.93 678.33 L274.59 682.29 L246.10 719.07 L214.76 691.06 L185.27 678.33 L171.51 648.79 L178.14 616.68 L130.39 594.60 L103.39 548.23 L132.35 511.95 L165.49 483.65 L206.57 472.93 Z" fill="none" stroke="#FF4A20" stroke-width="1.65" stroke-linejoin="round"/><rect x="243.75" y="466.63" width="4.70" height="4.70" fill="#FF4A20"/><rect x="286.49" y="460.72" width="4.70" height="4.70" fill="#FF4A20"/><rect x="311.49" y="499.01" width="4.70" height="4.70" fill="#FF4A20"/><rect x="336.61" y="524.78" width="4.70" height="4.70" fill="#FF4A20"/><rect x="320.47" y="567.32" width="4.70" height="4.70" fill="#FF4A20"/><rect x="323.96" y="592.25" width="4.70" height="4.70" fill="#FF4A20"/><rect x="323.76" y="618.25" width="4.70" height="4.70" fill="#FF4A20"/><rect x="327.10" y="652.81" width="4.70" height="4.70" fill="#FF4A20"/><rect x="304.58" y="675.98" width="4.70" height="4.70" fill="#FF4A20"/><rect x="272.24" y="679.94" width="4.70" height="4.70" fill="#FF4A20"/><rect x="243.75" y="716.72" width="4.70" height="4.70" fill="#FF4A20"/><rect x="212.41" y="688.70" width="4.70" height="4.70" fill="#FF4A20"/><rect x="182.92" y="675.98" width="4.70" height="4.70" fill="#FF4A20"/><rect x="169.16" y="646.44" width="4.70" height="4.70" fill="#FF4A20"/><rect x="175.79" y="614.33" width="4.70" height="4.70" fill="#FF4A20"/><rect x="128.04" y="592.25" width="4.70" height="4.70" fill="#FF4A20"/><rect x="101.04" y="545.88" width="4.70" height="4.70" fill="#FF4A20"/><rect x="130.00" y="509.60" width="4.70" height="4.70" fill="#FF4A20"/><rect x="163.13" y="481.29" width="4.70" height="4.70" fill="#FF4A20"/><rect x="204.22" y="470.58" width="4.70" height="4.70" fill="#FF4A20"/>
<path d="M246.10 445.01 L292.40 452.11 L293.52 529.33 L311.37 547.18 L332.69 566.46 L303.73 594.60 L333.57 623.02 L311.37 642.02 L287.02 650.92 L274.81 682.95 L246.10 721.38 L210.41 704.43 L198.68 659.87 L171.51 648.79 L180.33 615.97 L142.38 594.60 L114.57 551.86 L180.83 547.18 L178.36 501.36 L210.49 484.99 Z" fill="none" stroke="#2060FF" stroke-width="1.65" stroke-linejoin="round"/><path d="M246.10 442.09 L249.01 447.47 L243.19 447.47 Z" fill="#2060FF"/><path d="M292.40 449.20 L295.31 454.57 L289.49 454.57 Z" fill="#2060FF"/><path d="M293.52 526.42 L296.43 531.80 L290.61 531.80 Z" fill="#2060FF"/><path d="M311.37 544.27 L314.28 549.64 L308.46 549.64 Z" fill="#2060FF"/><path d="M332.69 563.55 L335.60 568.93 L329.78 568.93 Z" fill="#2060FF"/><path d="M303.73 591.69 L306.64 597.06 L300.81 597.06 Z" fill="#2060FF"/><path d="M333.57 620.11 L336.48 625.48 L330.66 625.48 Z" fill="#2060FF"/><path d="M311.37 639.11 L314.28 644.48 L308.46 644.48 Z" fill="#2060FF"/><path d="M287.02 648.00 L289.93 653.38 L284.10 653.38 Z" fill="#2060FF"/><path d="M274.81 680.03 L277.72 685.41 L271.89 685.41 Z" fill="#2060FF"/><path d="M246.10 718.46 L249.01 723.84 L243.19 723.84 Z" fill="#2060FF"/><path d="M210.41 701.52 L213.33 706.89 L207.50 706.89 Z" fill="#2060FF"/><path d="M198.68 656.96 L201.59 662.33 L195.77 662.33 Z" fill="#2060FF"/><path d="M171.51 645.88 L174.42 651.26 L168.60 651.26 Z" fill="#2060FF"/><path d="M180.33 613.06 L183.25 618.43 L177.42 618.43 Z" fill="#2060FF"/><path d="M142.38 591.69 L145.29 597.06 L139.46 597.06 Z" fill="#2060FF"/><path d="M114.57 548.95 L117.48 554.33 L111.66 554.33 Z" fill="#2060FF"/><path d="M180.83 544.27 L183.74 549.64 L177.92 549.64 Z" fill="#2060FF"/><path d="M178.36 498.45 L181.27 503.82 L175.45 503.82 Z" fill="#2060FF"/><path d="M210.49 482.08 L213.40 487.45 L207.57 487.45 Z" fill="#2060FF"/>
<path d="M246.10 490.64 L288.55 463.95 L300.29 520.01 L321.06 540.14 L333.79 566.11 L303.49 594.60 L323.26 619.67 L311.37 642.02 L293.52 659.87 L267.33 659.93 L246.10 722.07 L214.40 692.15 L198.68 659.87 L171.51 648.79 L180.12 616.04 L153.90 594.60 L136.49 558.99 L142.60 519.41 L172.26 492.97 L213.76 495.07 Z" fill="none" stroke="#7B8FF0" stroke-width="1.65" stroke-linejoin="round"/><rect x="243.75" y="488.29" width="4.70" height="4.70" fill="#7B8FF0"/><rect x="286.20" y="461.59" width="4.70" height="4.70" fill="#7B8FF0"/><rect x="297.94" y="517.66" width="4.70" height="4.70" fill="#7B8FF0"/><rect x="318.71" y="537.78" width="4.70" height="4.70" fill="#7B8FF0"/><rect x="331.44" y="563.76" width="4.70" height="4.70" fill="#7B8FF0"/><rect x="301.14" y="592.25" width="4.70" height="4.70" fill="#7B8FF0"/><rect x="320.91" y="617.32" width="4.70" height="4.70" fill="#7B8FF0"/><rect x="309.02" y="639.67" width="4.70" height="4.70" fill="#7B8FF0"/><rect x="291.17" y="657.52" width="4.70" height="4.70" fill="#7B8FF0"/><rect x="264.97" y="657.58" width="4.70" height="4.70" fill="#7B8FF0"/><rect x="243.75" y="719.71" width="4.70" height="4.70" fill="#7B8FF0"/><rect x="212.05" y="689.80" width="4.70" height="4.70" fill="#7B8FF0"/><rect x="196.33" y="657.52" width="4.70" height="4.70" fill="#7B8FF0"/><rect x="169.16" y="646.44" width="4.70" height="4.70" fill="#7B8FF0"/><rect x="177.76" y="613.69" width="4.70" height="4.70" fill="#7B8FF0"/><rect x="151.55" y="592.25" width="4.70" height="4.70" fill="#7B8FF0"/><rect x="134.14" y="556.63" width="4.70" height="4.70" fill="#7B8FF0"/><rect x="140.25" y="517.05" width="4.70" height="4.70" fill="#7B8FF0"/><rect x="169.91" y="490.62" width="4.70" height="4.70" fill="#7B8FF0"/><rect x="211.41" y="492.72" width="4.70" height="4.70" fill="#7B8FF0"/>
<path d="M246.10 468.06 L292.40 452.11 L313.84 501.36 L338.97 527.13 L327.21 568.25 L338.07 594.60 L355.71 630.21 L320.69 648.79 L313.30 687.09 L281.64 703.99 L246.10 732.44 L213.69 694.34 L178.76 687.28 L171.51 648.79 L147.67 626.58 L151.59 594.60 L125.53 555.42 L125.08 506.67 L164.94 482.90 L203.01 461.97 Z" fill="none" stroke="#0000D0" stroke-width="1.65" stroke-linejoin="round"/><rect x="243.75" y="465.70" width="4.70" height="4.70" fill="#0000D0"/><rect x="290.05" y="449.76" width="4.70" height="4.70" fill="#0000D0"/><rect x="311.49" y="499.01" width="4.70" height="4.70" fill="#0000D0"/><rect x="336.61" y="524.78" width="4.70" height="4.70" fill="#0000D0"/><rect x="324.86" y="565.89" width="4.70" height="4.70" fill="#0000D0"/><rect x="335.72" y="592.25" width="4.70" height="4.70" fill="#0000D0"/><rect x="353.36" y="627.86" width="4.70" height="4.70" fill="#0000D0"/><rect x="318.34" y="646.44" width="4.70" height="4.70" fill="#0000D0"/><rect x="310.95" y="684.74" width="4.70" height="4.70" fill="#0000D0"/><rect x="279.29" y="701.64" width="4.70" height="4.70" fill="#0000D0"/><rect x="243.75" y="730.09" width="4.70" height="4.70" fill="#0000D0"/><rect x="211.34" y="691.99" width="4.70" height="4.70" fill="#0000D0"/><rect x="176.41" y="684.93" width="4.70" height="4.70" fill="#0000D0"/><rect x="169.16" y="646.44" width="4.70" height="4.70" fill="#0000D0"/><rect x="145.32" y="624.23" width="4.70" height="4.70" fill="#0000D0"/><rect x="149.24" y="592.25" width="4.70" height="4.70" fill="#0000D0"/><rect x="123.18" y="553.07" width="4.70" height="4.70" fill="#0000D0"/><rect x="122.72" y="504.32" width="4.70" height="4.70" fill="#0000D0"/><rect x="162.59" y="480.55" width="4.70" height="4.70" fill="#0000D0"/><rect x="200.65" y="459.62" width="4.70" height="4.70" fill="#0000D0"/>
<path d="M246.10 479.12 L292.40 452.11 L313.98 501.17 L330.95 532.95 L321.95 569.95 L314.10 594.60 L311.87 615.97 L311.37 642.02 L293.52 659.87 L271.03 671.33 L246.10 709.62 L217.68 682.07 L191.91 669.19 L171.51 648.79 L168.50 619.81 L153.90 594.60 L113.69 551.58 L134.21 513.31 L171.85 492.41 L206.57 472.93 Z" fill="none" stroke="#A020F0" stroke-width="1.65" stroke-linejoin="round"/><rect x="243.75" y="476.77" width="4.70" height="4.70" fill="#A020F0"/><rect x="290.05" y="449.76" width="4.70" height="4.70" fill="#A020F0"/><rect x="311.63" y="498.82" width="4.70" height="4.70" fill="#A020F0"/><rect x="328.60" y="530.60" width="4.70" height="4.70" fill="#A020F0"/><rect x="319.60" y="567.60" width="4.70" height="4.70" fill="#A020F0"/><rect x="311.75" y="592.25" width="4.70" height="4.70" fill="#A020F0"/><rect x="309.51" y="613.62" width="4.70" height="4.70" fill="#A020F0"/><rect x="309.02" y="639.67" width="4.70" height="4.70" fill="#A020F0"/><rect x="291.17" y="657.52" width="4.70" height="4.70" fill="#A020F0"/><rect x="268.68" y="668.97" width="4.70" height="4.70" fill="#A020F0"/><rect x="243.75" y="707.27" width="4.70" height="4.70" fill="#A020F0"/><rect x="215.33" y="679.72" width="4.70" height="4.70" fill="#A020F0"/><rect x="189.55" y="666.84" width="4.70" height="4.70" fill="#A020F0"/><rect x="169.16" y="646.44" width="4.70" height="4.70" fill="#A020F0"/><rect x="166.14" y="617.46" width="4.70" height="4.70" fill="#A020F0"/><rect x="151.55" y="592.25" width="4.70" height="4.70" fill="#A020F0"/><rect x="111.34" y="549.23" width="4.70" height="4.70" fill="#A020F0"/><rect x="131.86" y="510.96" width="4.70" height="4.70" fill="#A020F0"/><rect x="169.50" y="490.06" width="4.70" height="4.70" fill="#A020F0"/><rect x="204.22" y="470.58" width="4.70" height="4.70" fill="#A020F0"/>
<path d="M246.10 467.13 L289.83 460.00 L308.42 508.82 L330.02 533.63 L326.55 568.46 L315.94 594.60 L326.77 620.81 L318.83 647.44 L298.94 667.33 L274.02 680.53 L246.10 717.92 L214.47 691.93 L190.55 671.06 L172.07 648.39 L170.91 619.03 L143.99 594.60 L116.98 552.65 L145.03 521.17 L169.55 489.24 L208.21 477.98 Z" fill="none" stroke="#FF0014" stroke-width="3.8" stroke-linejoin="round"/>
<g class="num"><text x="234.1" y="600.0" text-anchor="end">0</text><text x="234.1" y="576.4" text-anchor="end">1</text><text x="234.1" y="553.3" text-anchor="end">2</text><text x="234.1" y="530.2" text-anchor="end">3</text><text x="234.1" y="507.2" text-anchor="end">4</text><text x="234.1" y="484.2" text-anchor="end">5</text><text x="234.1" y="461.1" text-anchor="end">6</text><text x="234.1" y="438.1" text-anchor="end">7</text></g>
<g class="lab labb"><text x="245.2" y="424.6" text-anchor="middle">depth of colour</text><text x="296.7" y="438.7" text-anchor="start">intensity of bouquet</text><text x="343.6" y="462.4" text-anchor="start">spring flowers</text><text x="380.9" y="500.2" text-anchor="start">green apple</text><text x="404.2" y="547.1" text-anchor="start">fresh vegetables</text><text x="412.8" y="599" text-anchor="start">rose petals</text><text x="405" y="650.5" text-anchor="start">tropical fruit</text><text x="381.4" y="696.5" text-anchor="start">pear</text><text x="344.1" y="735.1" text-anchor="start">peach-apricot</text><text x="296.8" y="758" text-anchor="start">citrus fruit</text><text x="247" y="772.7" text-anchor="middle">acidic</text><text x="195.2" y="758" text-anchor="end">mineral salt</text><text x="148.3" y="735.1" text-anchor="end">floral</text><text x="110.2" y="697.8" text-anchor="end">vegetal</text><text x="87.4" y="650.5" text-anchor="end">tropical fruit</text><text x="80.1" y="598.8" text-anchor="end">ripe apple</text><text x="86.7" y="546.3" text-anchor="end">attractiveness</text><text x="112.1" y="499.6" text-anchor="end">elegance</text><text x="149" y="463" text-anchor="end">balance</text><text x="195.2" y="439.1" text-anchor="end">richness</text></g>
<line x1="28" y1="789" x2="52" y2="789" stroke="#FF4A20" stroke-width="1.1"/><rect x="37.59" y="786.59" width="4.83" height="4.83" fill="#FF4A20"/><text class="leg legb" x="56.5" y="792.4">Follo,S.Stefano,Guia</text><line x1="290.5" y1="789" x2="313.5" y2="789" stroke="#2060FF" stroke-width="1.1"/><path d="M302.00 786.01 L304.99 791.53 L299.01 791.53 Z" fill="#2060FF"/><text class="leg legb" x="318.8" y="792.4">Parte alta Valdo-Guia</text><line x1="28" y1="806.3" x2="52" y2="806.3" stroke="#7B8FF0" stroke-width="1.1"/><rect x="37.59" y="803.88" width="4.83" height="4.83" fill="#7B8FF0"/><text class="leg legb" x="56.5" y="809.7">S.Vito-Bigolino</text><line x1="290.5" y1="806.3" x2="313.5" y2="806.3" stroke="#0000D0" stroke-width="1.3"/><rect x="299.58" y="803.88" width="4.83" height="4.83" fill="#0000D0"/><text class="leg legb" x="318.8" y="809.7">Valdobbiadene-S.Pietro (sotto strada)</text><line x1="28" y1="822" x2="52" y2="822" stroke="#A020F0" stroke-width="1" stroke-dasharray="2.2 0.9"/><rect x="37.59" y="819.59" width="4.83" height="4.83" fill="#A020F0"/><text class="leg legb" x="56.5" y="825.4">Strada Guia-Vidor</text><line x1="290.5" y1="822" x2="313.5" y2="822" stroke="#F02858" stroke-width="1.3"/><text class="leg legb" x="318.8" y="825.4">AVERAGE</text>
<text class="pan" x="6.6" y="18">(a)</text>
<text class="pan" x="6.6" y="423.4">(b)</text>
</svg>
</body></html>
